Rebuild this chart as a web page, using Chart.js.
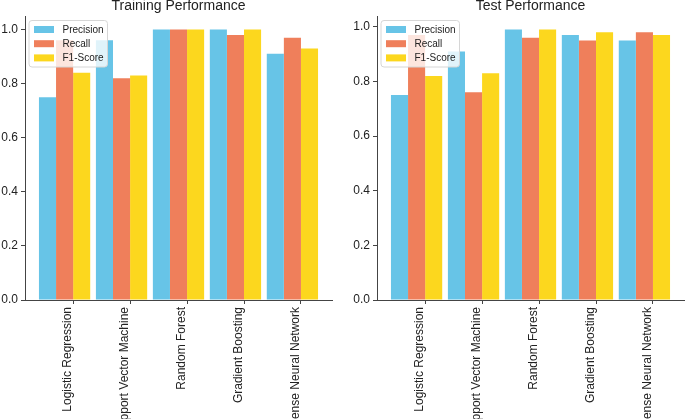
<!DOCTYPE html>
<html><head><meta charset="utf-8">
<script src="https://cdn.jsdelivr.net/npm/chart.js@4.4.1/dist/chart.umd.min.js"></script>
<style>
html,body{margin:0;padding:0;background:#fff;width:685px;height:419px;overflow:hidden;}
canvas{position:absolute;top:0;}
#c1{left:0;}
#c2{left:352px;}
</style></head><body>
<canvas id="c1" width="342" height="419"></canvas>
<canvas id="c2" width="333" height="419"></canvas>
<script>
const categories = ['Logistic Regression','Support Vector Machine','Random Forest','Gradient Boosting','Dense Neural Network'];
const seriesNames = ['Precision','Recall','F1-Score'];
const seriesColors = ['#67C4E7','#EF7F5B','#FCD71E'];
const trainPrecision = [0.75, 0.96, 1.00, 1.00, 0.91];
const trainRecall    = [0.96, 0.82, 1.00, 0.98, 0.97];
const trainF1        = [0.84, 0.83, 1.00, 1.00, 0.93];
const testPrecision  = [0.75, 0.91, 0.99, 0.97, 0.95];
const testRecall     = [0.97, 0.76, 0.96, 0.95, 0.98];
const testF1         = [0.82, 0.83, 0.99, 0.98, 0.97];
const yTicks = [0, 0.2, 0.4, 0.6, 0.8, 1.0];
const titles = ['Training Performance','Test Performance'];

const FONT = '"Liberation Sans", Arial, sans-serif';
const TXT = '#222';
const AX = '#444';

function overlayPlugin(title){
  return {
    id:'overlay',
    afterDatasetsDraw(chart){
      const ctx = chart.ctx, a = chart.chartArea;
      ctx.save();
      const bx = a.left + 4, by = a.top + 4.5, bw = 78.5, bh = 46.5;
      ctx.beginPath();
      if (ctx.roundRect) ctx.roundRect(bx, by, bw, bh, 3); else ctx.rect(bx, by, bw, bh);
      ctx.fillStyle = 'rgba(255,255,255,0.8)';
      ctx.fill();
      ctx.strokeStyle = '#d6d6d6';
      ctx.lineWidth = 1;
      ctx.stroke();
      ctx.font = '10px ' + FONT;
      ctx.textBaseline = 'middle';
      ctx.textAlign = 'left';
      chart.data.datasets.slice(0,3).forEach((ds,i)=>{
        const cy = by + 9 + i*14.2;
        ctx.fillStyle = ds.backgroundColor;
        ctx.fillRect(bx + 5, cy - 3.5, 20, 7);
        ctx.fillStyle = TXT;
        ctx.fillText(ds.label, bx + 33.5, cy + 0.5);
      });
      ctx.restore();
    },
    afterDraw(chart){
      const ctx = chart.ctx, a = chart.chartArea;
      ctx.save();
      ctx.font = '14px ' + FONT;
      ctx.fillStyle = TXT;
      ctx.textAlign = 'center';
      ctx.textBaseline = 'alphabetic';
      ctx.fillText(title, (a.left + a.right)/2, 10);
      ctx.restore();
    }
  };
}

function makeChart(id, title, series, yMax, padRight){
  const datasets = series.map((vals,k)=>({
    label: seriesNames[k],
    data: vals.map((v,i)=>({x:i, y:v})),
    backgroundColor: seriesColors[k],
    borderWidth: 0
  }));
  // empty slot so the category tick sits between Recall and F1-Score bars
  datasets.push({label:'', data: categories.map((_,i)=>({x:i, y:null})), backgroundColor:'rgba(0,0,0,0)'});
  return new Chart(document.getElementById(id), {
    type:'bar',
    data:{datasets},
    options:{
      responsive:false,
      animation:false,
      events:[],
      layout:{padding:{top:16, right:padRight, left:0, bottom:0}},
      datasets:{bar:{categoryPercentage:1.2, barPercentage:1.0, grouped:true}},
      plugins:{legend:{display:false}, title:{display:false}, tooltip:{enabled:false}},
      scales:{
        x:{
          type:'linear', offset:false, min:-0.845, max:4.545,
          grid:{display:true, drawOnChartArea:false, drawTicks:true, tickLength:4, color:AX, offset:false},
          border:{display:true, color:AX, width:1},
          afterBuildTicks: s => { s.ticks = categories.map((_,i)=>({value:i})); },
          afterFit: s => { s.height = 119; },
          ticks:{autoSkip:false, minRotation:90, maxRotation:90, padding:3, labelOffset:-5.5, color:TXT,
                 font:{family:FONT, size:12}, callback: v => categories[v]}
        },
        y:{
          type:'linear', min:0, max:yMax,
          grid:{display:true, drawOnChartArea:false, drawTicks:true, tickLength:4, color:AX},
          border:{display:true, color:AX, width:1},
          afterBuildTicks: s => { s.ticks = yTicks.map(v=>({value:v})); },
          afterFit: s => { s.width = 25; },
          ticks:{padding:3, color:TXT, font:{family:FONT, size:12}, callback: v => Number(v).toFixed(1)}
        }
      }
    },
    plugins:[overlayPlugin(title)]
  });
}

makeChart('c1', titles[0], [trainPrecision, trainRecall, trainF1], 1.05, 10);
makeChart('c2', titles[1], [testPrecision, testRecall, testF1], 1.0395, 1);
</script>
</body></html>
